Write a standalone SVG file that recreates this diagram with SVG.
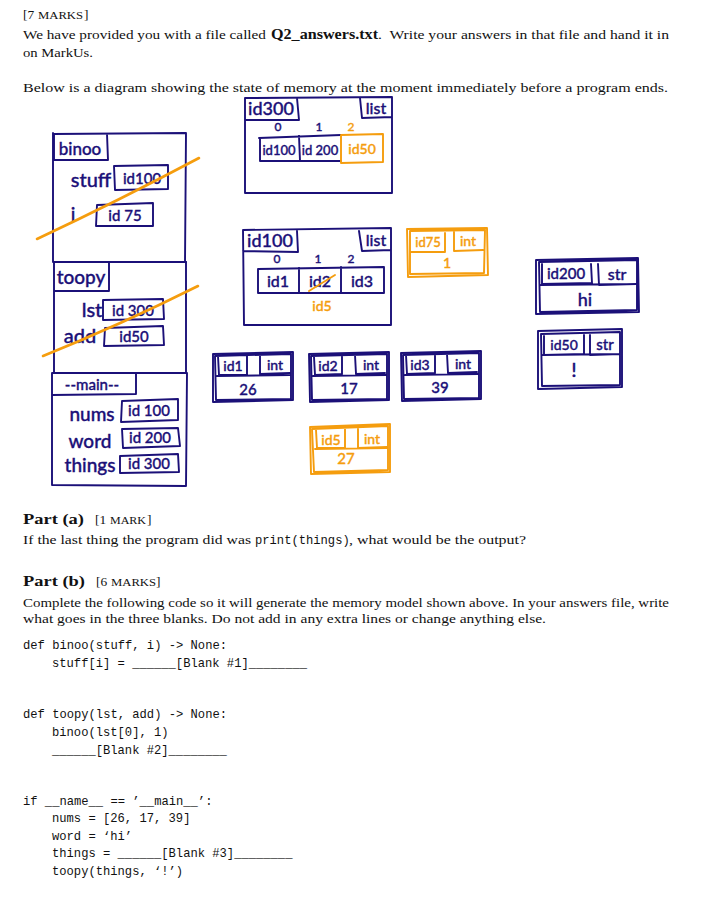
<svg xmlns="http://www.w3.org/2000/svg" width="704" height="897" viewBox="0 0 704 897">
<style>
.b{font-family:"Liberation Serif",serif;font-size:13.4px;fill:#111}
.bb{font-family:"Liberation Serif",serif;font-size:14px;font-weight:700;fill:#111}
.sc{font-family:"Liberation Serif",serif;font-size:10.2px;fill:#111}
.m{font-family:"Liberation Mono",monospace;font-size:12.15px;fill:#111}
.n,.o{fill:none;stroke-width:1.9;stroke-linecap:round;stroke-linejoin:round}
.n{stroke:#1b1078}.o{stroke:#f59d0e}
.hn,.ho{font-family:"Lato",sans-serif;font-weight:500;text-anchor:middle;stroke-width:.35}
.hn{fill:#1b1078;stroke:#1b1078}.ho{fill:#f59d0e;stroke:#f59d0e}
.x{fill:none;stroke:#f59d0e;stroke-width:2.6;stroke-linecap:round}
</style>
<g id="text">
<text class="b" x="23" y="19">[7</text><text class="sc" x="38" y="19" textLength="45" lengthAdjust="spacingAndGlyphs">MARKS</text><text class="b" x="84" y="19">]</text>
<text class="b" x="23" y="39" textLength="243" lengthAdjust="spacingAndGlyphs">We have provided you with a file called</text>
<text class="bb" x="271" y="39" textLength="107" lengthAdjust="spacingAndGlyphs">Q2_answers.txt</text>
<text class="b" x="378" y="39" textLength="291" lengthAdjust="spacingAndGlyphs" xml:space="preserve">.  Write your answers in that file and hand it in</text>
<text class="b" x="23" y="57" textLength="70" lengthAdjust="spacingAndGlyphs">on MarkUs.</text>
<text class="b" x="23" y="92" textLength="645" lengthAdjust="spacingAndGlyphs">Below is a diagram showing the state of memory at the moment immediately before a program ends.</text>
<text class="bb" x="23" y="524" textLength="61" lengthAdjust="spacingAndGlyphs">Part (a)</text>
<text class="b" x="95" y="524">[1</text><text class="sc" x="110" y="524" textLength="36" lengthAdjust="spacingAndGlyphs">MARK</text><text class="b" x="147" y="524">]</text>
<text class="b" x="23" y="544" textLength="228" lengthAdjust="spacingAndGlyphs">If the last thing the program did was</text>
<text class="m" x="255" y="544">print(things)</text>
<text class="b" x="349" y="544" textLength="177" lengthAdjust="spacingAndGlyphs">, what would be the output?</text>
<text class="bb" x="23" y="586" textLength="62" lengthAdjust="spacingAndGlyphs">Part (b)</text>
<text class="b" x="96" y="586">[6</text><text class="sc" x="111" y="586" textLength="45" lengthAdjust="spacingAndGlyphs">MARKS</text><text class="b" x="156" y="586">]</text>
<text class="b" x="23" y="607" textLength="646" lengthAdjust="spacingAndGlyphs">Complete the following code so it will generate the memory model shown above. In your answers file, write</text>
<text class="b" x="23" y="623" textLength="523" lengthAdjust="spacingAndGlyphs">what goes in the three blanks. Do not add in any extra lines or change anything else.</text>
<text class="m" x="23" y="649">def binoo(stuff, i) -&gt; None:</text>
<text class="m" x="52" y="667">stuff[i] = ______[Blank #1]________</text>
<text class="m" x="23" y="718">def toopy(lst, add) -&gt; None:</text>
<text class="m" x="52" y="736">binoo(lst[0], 1)</text>
<text class="m" x="52" y="754">______[Blank #2]________</text>
<text class="m" x="23" y="805">if __name__ == ’__main__’:</text>
<text class="m" x="52" y="822">nums = [26, 17, 39]</text>
<text class="m" x="52" y="840">word = ‘hi’</text>
<text class="m" x="52" y="857">things = ______[Blank #3]________</text>
<text class="m" x="52" y="875">toopy(things, ‘!’)</text>
</g>
<g id="frame-binoo">
<path class="n" d="M53 134L186 133L185 262M53 133L53 262M53 262L186 262M54 134L54 160L108 160L107 134"/>
<text class="hn" x="80" y="155" font-size="17">binoo</text>
<text class="hn" x="91" y="187" font-size="20">stuff</text>
<path class="n" d="M114 166L168 165L168 189L115 190Z"/>
<text class="hn" x="142" y="184" font-size="15">id100</text>
<text class="hn" x="73" y="221" font-size="19">i</text>
<path class="n" d="M97 205L153 203L153 226L96 226Z"/>
<text class="hn" x="125" y="221" font-size="15">id 75</text>
</g>
<g id="frame-toopy">
<path class="n" d="M54 262L54 372M186 262L186 373M54 291L109 291L109 262"/>
<text class="hn" x="81" y="284" font-size="19">toopy</text>
<text class="hn" x="92" y="317" font-size="20">lst</text>
<path class="n" d="M103 300L163 299L164 319L103 320Z"/>
<text class="hn" x="133" y="316" font-size="15">id 300</text>
<text class="hn" x="80" y="343" font-size="20">add</text>
<path class="n" d="M105 328L163 326L164 345L104 346Z"/>
<text class="hn" x="134" y="342" font-size="15">id50</text>
</g>
<g id="frame-main">
<path class="n" d="M52 373L187 373L186 486L52 485ZM52 395L136 394L136 373"/>
<text class="hn" x="92" y="390" font-size="15">--main--</text>
<text class="hn" x="92" y="421" font-size="19">nums</text>
<path class="n" d="M122 401L178 399L178 420L121 422Z"/>
<text class="hn" x="149" y="416" font-size="15">id 100</text>
<text class="hn" x="90" y="448" font-size="19">word</text>
<path class="n" d="M122 429L178 428L180 446L123 448Z"/>
<text class="hn" x="150" y="443" font-size="15">id 200</text>
<text class="hn" x="90" y="472" font-size="19">things</text>
<path class="n" d="M120 456L178 454L179 472L120 473Z"/>
<text class="hn" x="149" y="469" font-size="15">id 300</text>
</g>
<g id="id300">
<path class="n" d="M245 98L392 97L392 193L245 193ZM245 120L299 120L297 98M360 98L362 118L392 117"/>
<text class="hn" x="271" y="115" font-size="18">id300</text>
<text class="hn" x="376" y="114" font-size="16">list</text>
<text class="hn" x="278" y="131" font-size="12">0</text>
<text class="hn" x="319" y="131" font-size="12">1</text>
<text class="ho" x="351" y="131" font-size="12">2</text>
<path class="n" d="M259 138L341 135M260 138L260 161L341 161M299 136L300 161"/>
<text class="hn" x="279" y="155" font-size="13">id100</text>
<text class="hn" x="320" y="155" font-size="13">id 200</text>
<path class="o" d="M341 135L383 134L383 162L341 163Z"/>
<text class="ho" x="362" y="154" font-size="14">id50</text>
</g>
<g id="id100">
<path class="n" d="M243 230L391 228L391 325L244 325ZM243 251L298 252L297 231M359 231L362 251L391 250"/>
<text class="hn" x="270" y="247" font-size="18">id100</text>
<text class="hn" x="376" y="246" font-size="16">list</text>
<text class="hn" x="277" y="263" font-size="12">0</text>
<text class="hn" x="318" y="263" font-size="12">1</text>
<text class="hn" x="351" y="263" font-size="12">2</text>
<path class="n" d="M258 269L384 267L384 293L258 293ZM299 268L299 293M341 267L341 293"/>
<text class="hn" x="278" y="287" font-size="16">id1</text>
<text class="hn" x="320" y="287" font-size="16">id2</text>
<text class="hn" x="362" y="287" font-size="16">id3</text>
<path class="o" d="M309 291L335 275"/>
<text class="ho" x="322" y="311" font-size="14">id5</text>
</g>
<g id="id75">
<path class="o" d="M407 229L487 228L488 275L408 277ZM410 231L485 230L484 273L410 274ZM411 252L445 252L445 233M454 232L454 251L483 250"/>
<text class="ho" x="428" y="247" font-size="13">id75</text>
<text class="ho" x="468" y="246" font-size="14">int</text>
<text class="ho" x="447" y="268" font-size="14">1</text>
</g>
<g id="id1">
<path class="n" d="M213 354L293 352L293 400L213 402ZM215 356L291 354L291 399L216 400ZM217 376L290 375M218 356L219 375L247 375L247 356M260 355L260 374L290 373"/>
<text class="hn" x="233" y="371" font-size="14">id1</text>
<text class="hn" x="275" y="370" font-size="14">int</text>
<text class="hn" x="248" y="395" font-size="15">26</text>
</g>
<g id="id2">
<path class="n" d="M309 354L389 352L389 400L310 402ZM311 356L387 354L387 399L312 400ZM313 376L386 375M314 357L315 375L342 374L342 356M355 355L356 374L385 373"/>
<text class="hn" x="328" y="371" font-size="14">id2</text>
<text class="hn" x="371" y="370" font-size="14">int</text>
<text class="hn" x="349" y="394" font-size="15">17</text>
</g>
<g id="id3">
<path class="n" d="M401 353L481 351L481 399L402 401ZM403 355L479 353L479 398L404 399ZM405 375L478 374M406 355L407 374L435 373L435 355M447 354L448 373L477 372"/>
<text class="hn" x="420" y="370" font-size="14">id3</text>
<text class="hn" x="463" y="369" font-size="14">int</text>
<text class="hn" x="440" y="393" font-size="15">39</text>
</g>
<g id="id5">
<path class="o" d="M310 427L390 424L390 472L311 474ZM312 429L388 426L388 470L314 472ZM315 449L387 448M316 430L317 448L345 448L345 429M358 429L358 448L387 447"/>
<text class="ho" x="331" y="445" font-size="14">id5</text>
<text class="ho" x="372" y="444" font-size="14">int</text>
<text class="ho" x="346" y="464" font-size="15">27</text>
</g>
<g id="id200">
<path class="n" d="M536 260L638 258L639 312L536 314ZM539 262L637 260L637 310L540 312ZM541 285L636 284M542 264L542 284L592 283L591 264M598 264L599 285L636 284"/>
<text class="hn" x="566" y="279" font-size="15">id200</text>
<text class="hn" x="617" y="280" font-size="16">str</text>
<text class="hn" x="585" y="306" font-size="18">hi</text>
</g>
<g id="id50">
<path class="n" d="M538 331L622 329L622 387L538 389ZM541 334L620 332L620 385L542 386ZM543 355L620 354M544 336L544 355L584 354L584 335M590 335L590 355L620 354"/>
<text class="hn" x="564" y="350" font-size="14">id50</text>
<text class="hn" x="605" y="350" font-size="15">str</text>
<text class="hn" x="574" y="377" font-size="20">!</text>
</g>
<g id="connectors">
<path class="x" d="M37 239Q118 201 199 158"/>
<path class="x" d="M43 356Q120 325 198 286"/>
</g>
</svg>
